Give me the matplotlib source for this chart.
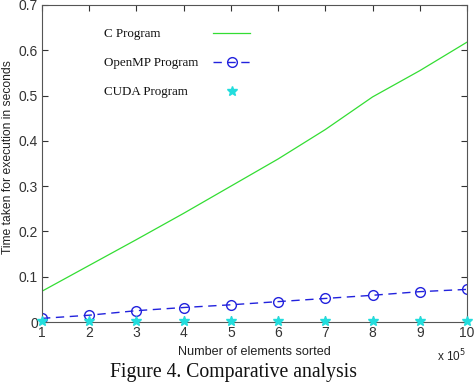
import matplotlib
matplotlib.use("Agg")
import matplotlib.pyplot as plt

n_elements = [1, 2, 3, 4, 5, 6, 7, 8, 9, 10]  # x 10^5
c_program = [0.068, 0.125, 0.182, 0.240, 0.300, 0.360, 0.425, 0.497, 0.555, 0.618]
openmp_program = [0.008, 0.015, 0.025, 0.032, 0.038, 0.045, 0.052, 0.059, 0.067, 0.072]
cuda_program = [0.002, 0.002, 0.002, 0.002, 0.002, 0.002, 0.002, 0.002, 0.002, 0.002]
y_ticks = [0, 0.1, 0.2, 0.3, 0.4, 0.5, 0.6, 0.7]
y_tick_labels = ["0", "0.1", "0.2", "0.3", "0.4", "0.5", "0.6", "0.7"]

fig = plt.figure(figsize=(4.74, 3.87), dpi=100)
ax = fig.add_axes([42/474, 1-322/387, (467-42)/474, (322-5)/387])

h1, = ax.plot(n_elements, c_program, color="#33dd33", lw=0.9, label="C Program")
h2, = ax.plot(n_elements, openmp_program, color="#2222dd", lw=1.0, ls=(0, (6, 4)),
              marker="o", mfc="none", mec="#2222dd", ms=7, mew=1.0, label="OpenMP Program")
h3, = ax.plot(n_elements, cuda_program, color="#22dddd", ls="none", marker="*", ms=7,
              label="CUDA Program", clip_on=False, zorder=5)

ax.set_xlim(1, 10)
ax.set_ylim(0, 0.7)
ax.set_xticks(n_elements)
ax.set_yticks(y_ticks)
ax.set_yticklabels(y_tick_labels)
ax.tick_params(direction="in", top=True, right=True, length=4, width=0.8,
               colors="#333333", labelsize=10, pad=3)
for t in ax.get_xticklabels() + ax.get_yticklabels():
    t.set_fontfamily("Liberation Sans")
for s in ax.spines.values():
    s.set_color("#555555")
    s.set_linewidth(0.8)

ax.set_xlabel("Number of elements sorted", fontfamily="Liberation Sans",
              fontsize=9.1, color="#222222", labelpad=4)
ax.set_ylabel("Time taken for execution in seconds", fontfamily="Liberation Sans",
              fontsize=8.7, color="#222222")
ax.yaxis.set_label_coords((14-42)/425, (322-157.5)/317)

fig.text(437/474, 1-356/387, r"x 10$^5$", fontfamily="Liberation Sans",
         fontsize=8.5, color="#222222", va="center", ha="left")

handles = [h1, h2, h3]
labels = [h.get_label() for h in handles]
common = dict(loc="upper left", bbox_to_anchor=((104-42)/425, 1-(28-5)/317),
              frameon=False, prop={"family": "Liberation Serif", "size": 9.4},
              labelspacing=1.3, borderpad=0, borderaxespad=0, handleheight=0.7)
# text legend (left-aligned labels, handles hidden)
legA = ax.legend(handles, labels, markerfirst=True, handlelength=0, handletextpad=0, **common)
for hl in legA.legend_handles:
    hl.set_visible(False)
for t in legA.get_texts():
    t.set_color("#111111")
ax.add_artist(legA)
# handle legend (handles to the right of the widest label)
legB = ax.legend(handles, labels, markerfirst=False, handlelength=2.8, handletextpad=1.15, **common)
for t in legB.get_texts():
    t.set_visible(False)

fig.text(234/474, 1-373/387, "Figure 4. Comparative analysis", fontfamily="Liberation Serif",
         fontsize=14.2, ha="center", va="center", color="#111111")

fig.savefig("out.png", dpi=100)
